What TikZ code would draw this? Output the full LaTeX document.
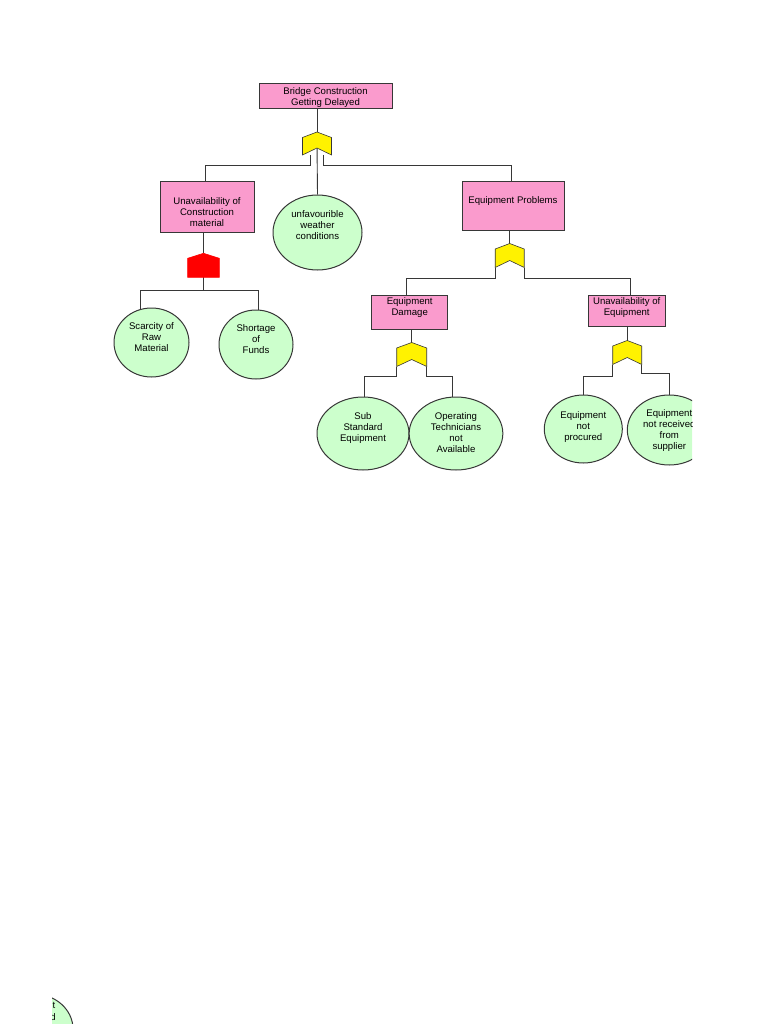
\documentclass[tikz,border=0pt]{standalone}
\usepackage{fontspec}
\setmainfont{Liberation Sans}
\usepackage{tikz}
\usetikzlibrary{calc,shapes,positioning}
\definecolor{boxpink}{RGB}{250,155,205}
\definecolor{leafgreen}{RGB}{204,255,204}
\definecolor{linegray}{RGB}{55,55,55}
% gates are drawn over the wires, at the end
\newcommand{\orgate}[2]{\filldraw[fill=#2,draw=linegray,line width=0.6pt] (#1.south west) -- ($(#1.north west)+(0,5.5)$) -- (#1.north) -- ($(#1.north east)+(0,5.5)$) -- (#1.south east) -- ($(#1.south)+(0,-7)$) -- cycle;}
\newcommand{\andgate}[2]{\filldraw[fill=#2,draw=#2,line width=0.6pt] (#1.south west) -- ($(#1.north west)+(0,5)$) -- (#1.north) -- ($(#1.north east)+(0,5)$) -- (#1.south east) -- cycle;}
\tikzset{
  event/.style={rectangle, draw=linegray, line width=1pt, fill=boxpink, inner sep=0pt},
  basic/.style={ellipse, draw=linegray, line width=1pt, fill=leafgreen, inner sep=0pt},
  gate/.style={inner sep=0pt, outer sep=0pt, minimum width=29pt, minimum height=24pt},
  txt/.style={anchor=north, align=center, inner sep=0pt, font=\fontsize{9.6}{11}\selectfont},
  wire/.style={draw=linegray, line width=0.9pt}
}

\begin{document}
\begin{tikzpicture}[x=1pt,y=-1pt]
  \useasboundingbox (0,0) rectangle (768,1024);
  \begin{scope}
  \clip (0,0) rectangle (692,1024);
  % events
  \node[event, minimum width=133pt, minimum height=25pt, label={[txt,yshift=-3.4pt]90:{Bridge Construction\\Getting Delayed}}] (top) at (325.5,96.5) {};
  \node[event, minimum width=94pt, minimum height=51pt, label={[txt,yshift=-15.4pt]90:{Unavailability of\\Construction\\material}}] (unavcm) at (207,207.5) {};
  \node[event, minimum width=102pt, minimum height=49pt, label={[txt,yshift=-14.4pt]90:{Equipment Problems}}] (eqprob) at (513,206.5) {};
  \node[event, minimum width=76pt, minimum height=34pt, label={[txt,yshift=-3.1pt]90:{Equipment\\Damage}}] (eqdmg) at (409.7,312) {};
  \node[event, minimum width=77pt, minimum height=31pt, label={[txt,yshift=-2.4pt]90:{Unavailability of\\Equipment}}] (unaveq) at (626.7,310.5) {};
  % basic events
  \node[basic, minimum width=89pt, minimum height=75pt, label={[txt,yshift=-15.7pt]90:{unfavourible\\weather\\conditions}}] (weather) at (317.5,232.5) {};
  \node[basic, minimum width=75pt, minimum height=69pt, label={[txt,yshift=-14.4pt]90:{Scarcity of\\Raw\\Material}}] (scarcity) at (151.5,342.5) {};
  \node[basic, minimum width=74pt, minimum height=69pt, label={[txt,yshift=-14.7pt]90:{Shortage\\of\\Funds}}] (shortage) at (256,344.5) {};
  \node[basic, minimum width=92pt, minimum height=73pt, label={[txt,yshift=-16.1pt]90:{Sub\\Standard\\Equipment}}] (sub) at (363,433.5) {};
  \node[basic, minimum width=93.7pt, minimum height=73pt, label={[txt,yshift=-16.1pt]90:{Operating\\Technicians\\not\\Available}}] (operating) at (456,433.5) {};
  \node[basic, minimum width=78pt, minimum height=68pt, label={[txt,yshift=-16.4pt]90:{Equipment\\not\\procured}}] (procured) at (583.3,429) {};
  \node[basic, minimum width=84pt, minimum height=70pt, label={[txt,yshift=-14.7pt]90:{Equipment\\not received\\from\\supplier}}] (received) at (669.3,430) {};
  % gates
  \node[gate, minimum height=23pt] (g1) at (317,143.5) {};
  \node[gate, minimum width=31.6pt] (r1) at (203.5,265.3) {};
  \node[gate] (g2) at (509.7,255.5) {};
  \node[gate, minimum width=30pt] (g3) at (411.7,354.5) {};
  \node[gate] (g4) at (627.2,352.5) {};
  % wires
  \draw[wire] (g1.north |- top.south) -- (g1.north);
  \draw[wire] ([xshift=-7pt]g1.south) -- ++(0,10) -| ([xshift=-1.3pt]unavcm.north);
  \draw[wire] (g1.center) -- (weather.north);
  \draw[wire] ([xshift=6pt]g1.south) -- ++(0,10) -| ([xshift=-2pt]eqprob.north);
  \draw[wire] (r1.north |- unavcm.south) -- (r1.north);
  \draw[wire] (r1.south) -- ++(0,13.5) -| ([xshift=-10.8pt,yshift=-1.5pt]scarcity.north);
  \draw[wire] (r1.south) -- ++(0,13.5) -| ([xshift=2.3pt]shortage.north);
  \draw[wire] (g2.north |- eqprob.south) -- (g2.north);
  \draw[wire] (g2.south west) -- ++(0,10.5) -| ([xshift=-3pt]eqdmg.north);
  \draw[wire] (g2.south east) -- ++(0,10.5) -| ([xshift=3.3pt]unaveq.north);
  \draw[wire] (g3.north |- eqdmg.south) -- (g3.north);
  \draw[wire] (g3.south west) -- ++(0,9.5) -| ([xshift=1.3pt]sub.north);
  \draw[wire] (g3.south east) -- ++(0,9.5) -| ([xshift=-3.3pt]operating.north);
  \draw[wire] (g4.north |- unaveq.south) -- (g4.north);
  \draw[wire] (g4.south west) -- ++(0,11.5) -| (procured.north);
  \draw[wire] (g4.south east) -- ++(0,8.8) -| (received.north);
  \orgate{g1}{yellow}
  \andgate{r1}{red}
  \orgate{g2}{yellow}
  \orgate{g3}{yellow}
  \orgate{g4}{yellow}
  % cut-off piece at the bottom
  \begin{scope}
    \clip (52,975) rectangle (110,1024);
    \node[basic, minimum width=78pt, minimum height=70pt] (frag) at (34,1029) {};
    \node[txt, anchor=east] (fragt) at (55.5,1005.7) {t};
    \node[txt, anchor=east] (fragd) at (56,1016.7) {d};
  \end{scope}
  \end{scope}
\end{tikzpicture}
\end{document}
